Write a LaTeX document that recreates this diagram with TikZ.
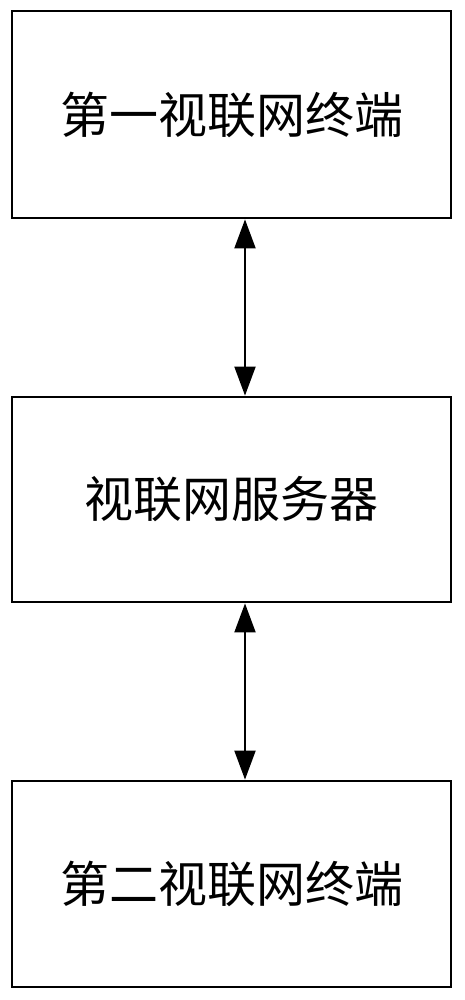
\documentclass[tikz,border=0pt]{standalone}
\usepackage{fontspec}
\newfontfamily\cjk{Noto Sans CJK SC}
\usetikzlibrary{arrows.meta}
\begin{document}
\begin{tikzpicture}[x=1pt,y=-1pt,
  box/.style={draw=black,line width=2.8pt,minimum width=439pt,inner sep=0pt,
    font=\cjk\fontsize{49}{58}\selectfont},
  link/.style={line width=2pt,{Triangle[width=21pt,length=29pt]}-{Triangle[width=21pt,length=29pt]}}]
\useasboundingbox[fill=white] (0,0) rectangle (464,1000);
\node[box,minimum height=207pt] (t1) at (231.5,114.5) {\raisebox{4pt}{第一视联网终端}};
\node[box,minimum height=205pt] (srv) at (231.5,499.5) {\raisebox{4pt}{视联网服务器}};
\node[box,minimum height=206pt] (t2) at (231.5,884) {\raisebox{4pt}{第二视联网终端}};
\draw[link] ([xshift=13.5pt]t1.south) -- ([xshift=13.5pt]srv.north);
\draw[link] ([xshift=13.5pt]srv.south) -- ([xshift=13.5pt]t2.north);
\end{tikzpicture}
\end{document}
